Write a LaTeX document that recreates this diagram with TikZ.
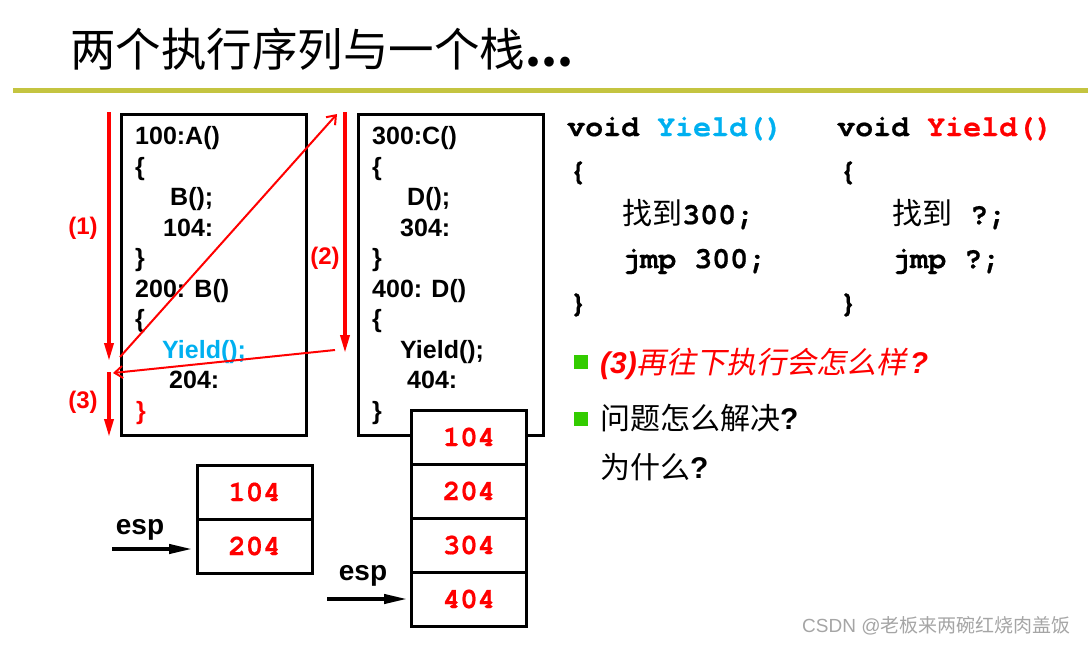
\documentclass[tikz,border=0pt]{standalone}
\usepackage{fontspec}
\setmainfont{Liberation Sans}
\newfontfamily\cjk{Noto Sans CJK SC}
\newfontfamily\cjkit[FakeSlant=0.2]{Noto Sans CJK SC}
\newfontfamily\mono[BoldFeatures={FakeBold=0.6}]{TeX Gyre Cursor}
\usetikzlibrary{arrows.meta}
\definecolor{cy}{RGB}{0,176,240}
\definecolor{rd}{RGB}{255,0,0}
\definecolor{olv}{RGB}{196,196,64}
\definecolor{grn}{RGB}{51,204,0}
\definecolor{wm}{RGB}{165,165,165}
\begin{document}
\begin{tikzpicture}[x=1pt,y=-1pt,
  cbox/.style={draw=black, line width=2.5pt, anchor=north west, minimum width=185pt, minimum height=321pt, inner sep=0pt},
  code/.style={anchor=base west, inner sep=0pt, font=\fontsize{25}{25}\selectfont\bfseries},
  rcode/.style={anchor=base west, inner sep=0pt, font=\mono\fontsize{30}{30}\selectfont\bfseries},
  cell/.style={draw=black, line width=3pt, minimum width=115pt, minimum height=54pt, inner sep=0pt, text=rd, font=\mono\fontsize{29}{29}\selectfont\bfseries},
  flow/.style={draw=rd, line width=3.5pt, -{Triangle[length=18pt,width=9pt]}},
  jump/.style={draw=rd, line width=2pt, -{Straight Barb[length=8pt,width=12pt,line width=2pt]}},
  esparrow/.style={draw=black, line width=4pt, -{Triangle[length=24pt,width=9pt]}},
  lbl/.style={text=rd, font=\fontsize{24}{24}\selectfont\bfseries, inner sep=0pt},
  esplbl/.style={font=\fontsize{28}{28}\selectfont\bfseries, inner sep=0pt},
  bullet/.style={fill=grn, minimum size=14pt, inner sep=0pt},
  btext/.style={anchor=base west, inner sep=0pt, font=\fontsize{30}{30}\selectfont}
]
\useasboundingbox (0,0) rectangle (1088,645);

% title
\node[anchor=west, inner sep=0pt, font=\cjk\fontsize{45.5}{45.5}\selectfont] (title) at (70,49) {两个执行序列与一个栈\textbf{...}};
\coordinate (la) at (13,90);
\coordinate (lb) at (1088,90);
\draw[olv, line width=5pt] (la) -- (lb);

% code boxes
\node[cbox] (b1) at (120,113) {};
\node[cbox] (b2) at (357,113) {};

% box 1 text
\node[code] (a1) at (135,144.6) {100:A()};
\node[code] (a2) at (135,175.1) {\{};
\node[code] (a3) at (170,205.6) {B();};
\node[code] (a4) at (163,236.1) {104:};
\node[code] (a5) at (135,266.6) {\}};
\node[code] (a6) at (135,297.1) {200: B()};
\node[code] (a7) at (135,327.6) {\{};
\node[code, text=cy] (a8) at (162,358.1) {Yield();};
\node[code] (a9) at (169,388.6) {204:};
\node[code, text=rd] (a10) at (136,419.1) {\}};

% box 2 text
\node[code] (c1) at (372,144.6) {300:C()};
\node[code] (c2) at (372,175.1) {\{};
\node[code] (c3) at (407,205.6) {D();};
\node[code] (c4) at (400,236.1) {304:};
\node[code] (c5) at (372,266.6) {\}};
\node[code] (c6) at (372,297.1) {400: D()};
\node[code] (c7) at (372,327.6) {\{};
\node[code] (c8) at (400,358.1) {Yield();};
\node[code] (c9) at (407,388.6) {404:};
\node[code] (c10) at (372,419.1) {\}};

% flow arrows
\coordinate (f1a) at (109,112);
\coordinate (f1b) at (109,361);
\coordinate (f3a) at (109,372);
\coordinate (f3b) at (109,437);
\coordinate (f2a) at (345,112);
\coordinate (f2b) at (345,353);
\draw[flow] (f1a) -- (f1b);
\draw[flow] (f3a) -- (f3b);
\draw[flow] (f2a) -- (f2b);
\node[lbl] (l1) at (83,228) {(1)};
\node[lbl] (l2) at (325,258) {(2)};
\node[lbl] (l3) at (83,402) {(3)};

\coordinate (j1a) at (120,357);
\coordinate (j1b) at (337,114);
\coordinate (j2a) at (335,350);
\coordinate (j2b) at (113,373);
\draw[jump] (j1a) -- (j1b);
\draw[jump] (j2a) -- (j2b);

% small stack
\node[cell] (s1) at (254.5,492) {104};
\node[cell] (s2) at (254.5,546) {204};
\node[esplbl] (esp1) at (140,530) {esp};
\coordinate (e1a) at (112,549);
\coordinate (e1b) at (193,549);
\draw[esparrow] (e1a) -- (e1b);

% large stack
\node[cell, fill=white] (t1) at (469,437) {104};
\node[cell] (t2) at (469,491) {204};
\node[cell] (t3) at (469,545) {304};
\node[cell] (t4) at (469,599) {404};
\node[esplbl] (esp2) at (363,576) {esp};
\coordinate (e2a) at (327,599);
\coordinate (e2b) at (408,599);
\draw[esparrow] (e2a) -- (e2b);

% right code
\node[rcode] (r1) at (567,136) {void \textcolor{cy}{Yield()}};
\node[rcode] (r2) at (569,180) {\{};
\node[rcode] (r3) at (622,224) {{\cjk\mdseries 找到}300;};
\node[rcode] (r4) at (622,268) {jmp 300;};
\node[rcode] (r5) at (569,312) {\}};
\node[rcode] (q1) at (837,136) {void \textcolor{rd}{Yield()}};
\node[rcode] (q2) at (839,180) {\{};
\node[rcode] (q3) at (892,224) {{\cjk\mdseries 找到} ?;};
\node[rcode] (q4) at (892,268) {jmp ?;};
\node[rcode] (q5) at (839,312) {\}};

% bullets
\node[bullet] (bu1) at (580.5,361.5) {};
\node[bullet] (bu2) at (580.5,418.5) {};
\node[btext, text=rd] (bt1) at (600,373) {\bfseries\itshape (3)\cjkit\mdseries 再往下执行会怎么样\kern3pt\bfseries\itshape\rmfamily ?};
\node[btext] (bt2) at (600,429) {{\cjk 问题怎么解决}\bfseries ?};
\node[btext] (bt3) at (600,478) {{\cjk 为什么}\bfseries ?};

% watermark
\node[anchor=west, inner sep=0pt, text=wm, font=\fontsize{19}{19}\selectfont] (wmk) at (802,626) {CSDN @{\cjk 老板来两碗红烧肉盖饭}};
\end{tikzpicture}
\end{document}
